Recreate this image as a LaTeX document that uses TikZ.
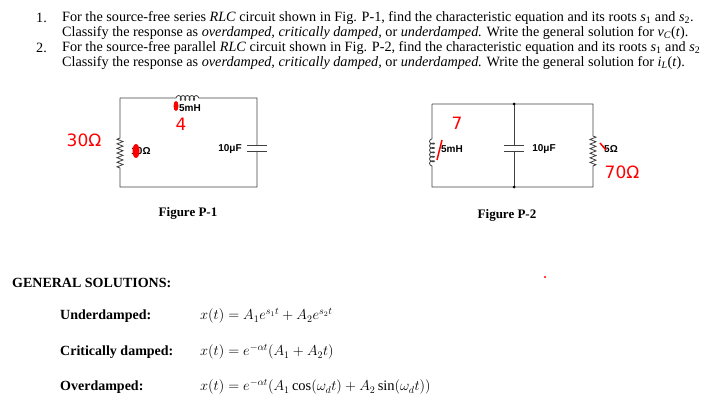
\documentclass[tikz,border=0pt]{standalone}
\usepackage{fontspec}
\setmainfont{Liberation Serif}
\newfontfamily\lsans{Liberation Sans}
\newfontfamily\dsans{DejaVu Sans}
\usetikzlibrary{decorations.pathmorphing}
\begin{document}
\begin{tikzpicture}[x=1pt,y=-1pt,
  txt/.style={anchor=west,inner sep=0,font=\fontsize{14.2}{16}\selectfont},
  lbl/.style={inner sep=0,font=\lsans\bfseries\fontsize{10}{11}\selectfont},
  hand/.style={inner sep=0,text=red,font=\dsans\fontsize{17}{18}\selectfont},
  figcap/.style={inner sep=0,font=\bfseries\fontsize{13}{14}\selectfont},
  sol/.style={anchor=west,inner sep=0,font=\bfseries\fontsize{14}{15}\selectfont},
  eq/.style={anchor=west,inner sep=0,font=\fontsize{14.5}{16}\selectfont},
  coilz/.style={decoration={coil,aspect=0.6,segment length=4.4pt,amplitude=2.5pt}},
  zz/.style={decoration={zigzag,segment length=4.6pt,amplitude=3pt}},
  w/.style={draw=black!75,line width=0.8pt}]
\useasboundingbox (0,0) rectangle (722,406);
% questions
\node[txt] (n1) at (36,18) {1.};
\node[txt] (q1a) at (62,18) {For the source-free series \textit{RLC} circuit shown in Fig. P-1, find the characteristic equation and its roots \textit{s}\textsubscript{1} and \textit{s}\textsubscript{2}.};
\node[txt] (q1b) at (62,33) {Classify the response as \textit{overdamped, critically damped,} or \textit{underdamped.} Write the general solution for \textit{v}\textsubscript{\textit{C}}(\textit{t}).};
\node[txt] (n2) at (36,48) {2.};
\node[txt] (q2a) at (62,48) {For the source-free parallel \textit{RLC} circuit shown in Fig. P-2, find the characteristic equation and its roots \textit{s}\textsubscript{1} and \textit{s}\textsubscript{2}};
\node[txt] (q2b) at (62,63) {Classify the response as \textit{overdamped, critically damped,} or \textit{underdamped.} Write the general solution for \textit{i}\textsubscript{\textit{L}}(\textit{t}).};
% circuit 1
\coordinate (a1) at (120,98); \coordinate (b1) at (257,98);
\coordinate (c1) at (257,187); \coordinate (d1) at (120,187);
\draw[w] (a1) -- (176,98) decorate[coilz]{-- (200,98)} -- (b1) -- (257,145);
\draw[w] (247,145) -- (267,145) (247,151) -- (267,151);
\draw[w] (257,151) -- (c1) -- (d1) -- (120,168) decorate[zz]{-- (120,136)} -- (a1);
\node[lbl] (l1) at (190,108) {5mH};
\node[lbl] (r1) at (141,151) {10Ω};
\node[lbl] (cc1) at (230,149) {10μF};
\fill[red] (136,151) ellipse (3.5 and 7);
\fill[red] (176,106) ellipse (2.5 and 5);
\node[hand] (h4) at (181,124) {4};
\node[hand] (h30) at (84,140) {30Ω};
\node[figcap] (f1) at (188,213) {Figure P-1};
% circuit 2
\coordinate (a2) at (432,104); \coordinate (m2) at (514,104); \coordinate (b2) at (593,104);
\coordinate (d2) at (432,187); \coordinate (n2b) at (514,187); \coordinate (c2) at (593,187);
\draw[w] (a2) -- (b2) -- (593,136) decorate[zz]{-- (593,168)} -- (c2) -- (d2) -- (432,166) decorate[coilz]{-- (432,136)} -- (a2);
\draw[w] (m2) -- (514,145) (504,145) -- (524,145) (504,151) -- (524,151) (514,151) -- (n2b);
\fill (m2) circle (1.5); \fill (n2b) circle (1.5);
\node[lbl] (l2) at (452,149) {5mH};
\node[lbl] (cc2) at (544,149) {10μF};
\node[lbl] (r2) at (611,149) {5Ω};
\draw[red,line width=1.5pt] (442,140) -- (437,160);
\draw[red,line width=1.5pt] (600,143) -- (606,150);
\node[hand] (h7) at (457,123) {7};
\node[hand] (h70) at (622,172) {70Ω};
\node[figcap] (f2) at (507,215) {Figure P-2};
% solutions
\node[sol] (gs) at (12,283) {GENERAL SOLUTIONS:};
\node[sol] (u) at (60,316) {Underdamped:};
\node[sol] (c) at (60,352) {Critically damped:};
\node[sol] (o) at (60,387) {Overdamped:};
\node[eq] (ue) at (200,316) {$x(t)=A_1e^{s_1t}+A_2e^{s_2t}$};
\node[eq] (ce) at (200,352) {$x(t)=e^{-\alpha t}(A_1+A_2t)$};
\node[eq] (oe) at (200,387) {$x(t)=e^{-\alpha t}(A_1\cos(\omega_d t)+A_2\sin(\omega_d t))$};
\fill[red] (545,277) circle (1.2);
\end{tikzpicture}
\end{document}
